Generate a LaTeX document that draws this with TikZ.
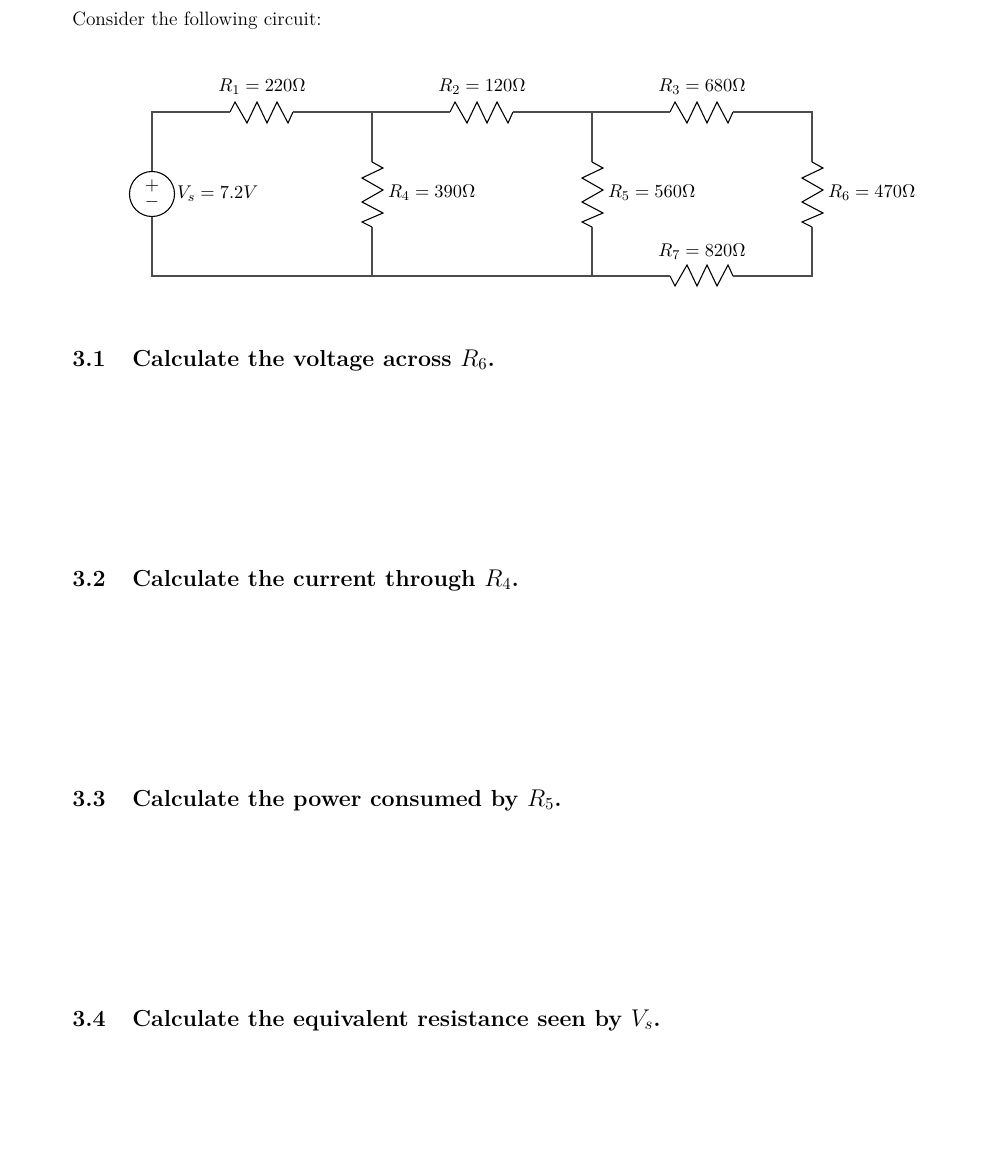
\documentclass[tikz,border=0pt]{standalone}
\begin{document}
\begin{tikzpicture}[x=0.595pt,y=-0.595pt,
  wire/.style={draw=black!70, line width=0.65pt},
  zz/.style={draw=black, line width=0.65pt, line join=miter},
  lbl/.style={inner sep=1pt, font=\fontsize{11.4}{14}\selectfont},
  q/.style={anchor=base west, font=\fontsize{13.8}{16}\selectfont\bfseries, inner sep=0pt}]
\useasboundingbox (0,0) rectangle (982,1152);
\node[anchor=base west, inner sep=0pt, font=\fontsize{11.5}{14}\selectfont] (intro) at (72,26) {Consider the following circuit:};
% corner coordinates
\foreach \n/\x in {a/152,b/372,c/592,d/812}{
  \coordinate (\n t) at (\x,112); \coordinate (\n b) at (\x,276);}
% source
\node[draw, circle, minimum size=26.8pt, inner sep=0pt, line width=0.65pt] (vs) at (152,194) {};
\node[font=\fontsize{11.4}{14}\selectfont, inner sep=0pt, align=center] (pm) at (152,194) {$+$\\[-4.5pt]$-$};
\node[lbl, anchor=west] (vsl) at (vs.east) {$V_s = 7.2V$};
% horizontal resistors top
\foreach \n/\x in {r1/230,r2/450,r3/670}{
  \coordinate (\n a) at (\x,112); \coordinate (\n b) at (\x+63,112);
  \draw[zz] (\n a) -- ++(5,-10) -- ++(12,21) -- ++(10,-21) -- ++(10,21) -- ++(10,-21) -- ++(11,21) -- (\n b);}
% R7 bottom mirrored
\coordinate (r7a) at (670,276); \coordinate (r7b) at (733,276);
\draw[zz] (r7a) -- ++(5,10) -- ++(12,-21) -- ++(10,21) -- ++(10,-21) -- ++(10,21) -- ++(11,-21) -- (r7b);
% vertical resistors
\foreach \n/\x in {r4/372,r5/592,r6/812}{
  \coordinate (\n a) at (\x,162); \coordinate (\n b) at (\x,227);
  \draw[zz] (\n a) -- ++(11,6) -- ++(-21,10) -- ++(21,12) -- ++(-21,12) -- ++(21,11) -- ++(-21,9) -- (\n b);}
% wires
\draw[wire] (vs.north) -- (at) -- (r1a);
\draw[wire] (r1b) -- (bt) -- (r2a);
\draw[wire] (r2b) -- (ct) -- (r3a);
\draw[wire] (r3b) -- (dt) -- (r6a);
\draw[wire] (vs.south) -- (ab) -- (bb) -- (cb) -- (r7a);
\draw[wire] (r7b) -- (db) -- (r6b);
\draw[wire] (bt) -- (r4a); \draw[wire] (r4b) -- (bb);
\draw[wire] (ct) -- (r5a); \draw[wire] (r5b) -- (cb);
% labels
\node[lbl] (l1) at (262,87) {$R_1 = 220\Omega$};
\node[lbl] (l2) at (482,87) {$R_2 = 120\Omega$};
\node[lbl] (l3) at (702,87) {$R_3 = 680\Omega$};
\node[lbl] (l7) at (702,252) {$R_7 = 820\Omega$};
\node[lbl, anchor=west] (l4) at (386,193) {$R_4 = 390\Omega$};
\node[lbl, anchor=west] (l5) at (606,193) {$R_5 = 560\Omega$};
\node[lbl, anchor=west] (l6) at (826,193) {$R_6 = 470\Omega$};
% questions
\node[q] (q1n) at (72,366) {3.1}; \node[q] (q1) at (132,366) {Calculate the voltage across $R_6$.};
\node[q] (q2n) at (72,586) {3.2}; \node[q] (q2) at (132,586) {Calculate the current through $R_4$.};
\node[q] (q3n) at (72,806) {3.3}; \node[q] (q3) at (132,806) {Calculate the power consumed by $R_5$.};
\node[q] (q4n) at (72,1026) {3.4}; \node[q] (q4) at (132,1026) {Calculate the equivalent resistance seen by $V_s$.};
\end{tikzpicture}
\end{document}
